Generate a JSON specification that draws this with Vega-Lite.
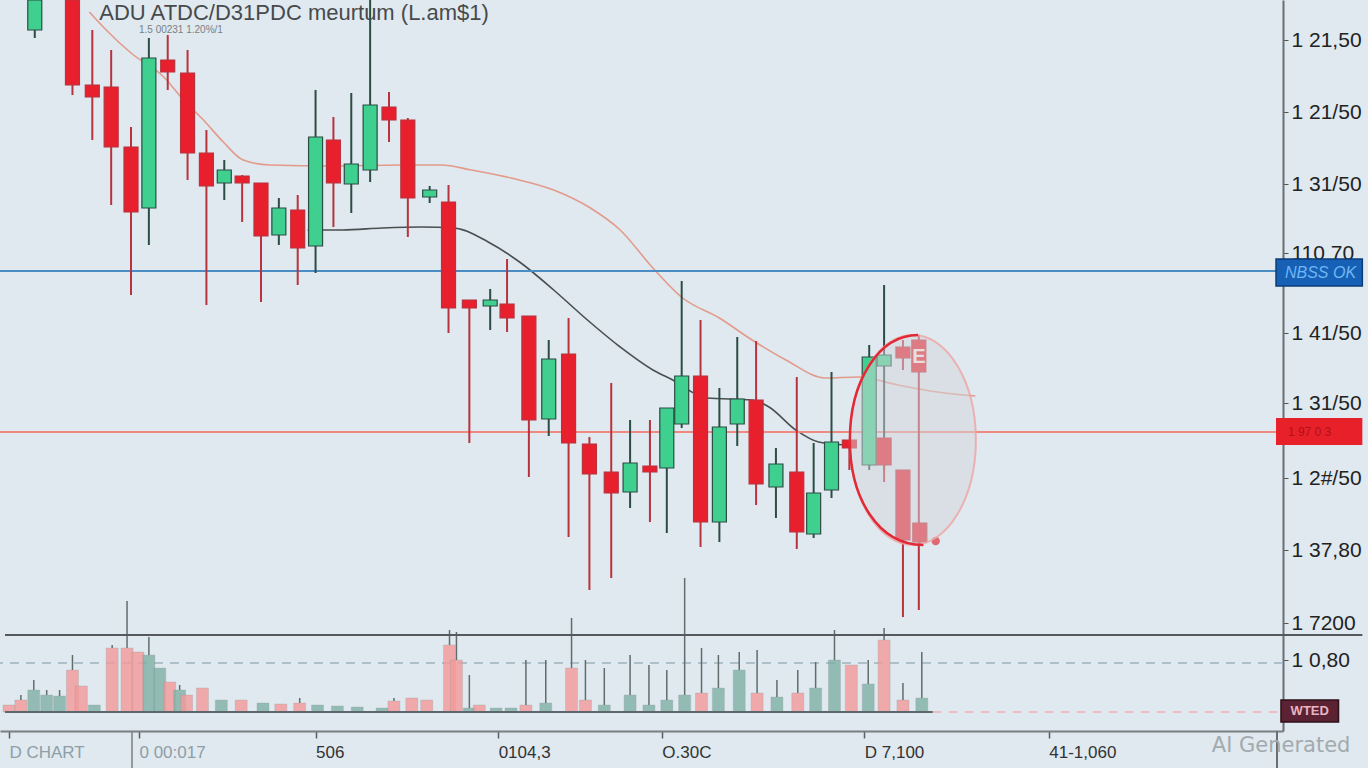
{
  "$schema": "https://vega.github.io/schema/vega-lite/v6.json",
  "width": 1283,
  "height": 731,
  "autosize": {"type": "none"},
  "padding": {"left": 0, "top": 0, "right": 85, "bottom": 37},
  "background": "#dfe9ef",
  "view": {"stroke": null},
  "config": {"font": "Liberation Sans"},
  "data": {"values": [{}]},
  "datasets": {
    "candles": [
      {"t": 30, "wt": 0, "wb": 38, "bt": 0, "bb": 30, "d": "up"},
      {"t": 68, "wt": 0, "wb": 95, "bt": 0, "bb": 85, "d": "dn"},
      {"t": 88, "wt": 30, "wb": 140, "bt": 85, "bb": 97, "d": "dn"},
      {"t": 107, "wt": 50, "wb": 205, "bt": 87, "bb": 147, "d": "dn"},
      {"t": 127, "wt": 127, "wb": 295, "bt": 147, "bb": 212, "d": "dn"},
      {"t": 145, "wt": 38, "wb": 245, "bt": 58, "bb": 208, "d": "up"},
      {"t": 164, "wt": 35, "wb": 90, "bt": 60, "bb": 72, "d": "dn"},
      {"t": 184, "wt": 50, "wb": 180, "bt": 73, "bb": 153, "d": "dn"},
      {"t": 203, "wt": 130, "wb": 305, "bt": 153, "bb": 186, "d": "dn"},
      {"t": 221, "wt": 160, "wb": 200, "bt": 170, "bb": 183, "d": "up"},
      {"t": 239, "wt": 175, "wb": 222, "bt": 176, "bb": 183, "d": "dn"},
      {"t": 258, "wt": 183, "wb": 302, "bt": 183, "bb": 236, "d": "dn"},
      {"t": 276, "wt": 198, "wb": 245, "bt": 208, "bb": 235, "d": "up"},
      {"t": 295, "wt": 195, "wb": 285, "bt": 210, "bb": 248, "d": "dn"},
      {"t": 313, "wt": 90, "wb": 273, "bt": 137, "bb": 246, "d": "up"},
      {"t": 331, "wt": 117, "wb": 227, "bt": 140, "bb": 183, "d": "dn"},
      {"t": 349, "wt": 93, "wb": 213, "bt": 164, "bb": 184, "d": "up"},
      {"t": 368, "wt": 0, "wb": 182, "bt": 105, "bb": 170, "d": "up"},
      {"t": 387, "wt": 92, "wb": 142, "bt": 107, "bb": 120, "d": "dn"},
      {"t": 406, "wt": 118, "wb": 237, "bt": 120, "bb": 198, "d": "dn"},
      {"t": 428, "wt": 186, "wb": 203, "bt": 190, "bb": 197, "d": "up"},
      {"t": 447, "wt": 185, "wb": 333, "bt": 202, "bb": 308, "d": "dn"},
      {"t": 468, "wt": 300, "wb": 443, "bt": 300, "bb": 308, "d": "dn"},
      {"t": 489, "wt": 289, "wb": 330, "bt": 300, "bb": 306, "d": "up"},
      {"t": 506, "wt": 259, "wb": 332, "bt": 304, "bb": 318, "d": "dn"},
      {"t": 528, "wt": 316, "wb": 477, "bt": 316, "bb": 420, "d": "dn"},
      {"t": 548, "wt": 340, "wb": 436, "bt": 359, "bb": 419, "d": "up"},
      {"t": 568, "wt": 318, "wb": 537, "bt": 354, "bb": 443, "d": "dn"},
      {"t": 589, "wt": 437, "wb": 590, "bt": 444, "bb": 474, "d": "dn"},
      {"t": 611, "wt": 383, "wb": 578, "bt": 472, "bb": 493, "d": "dn"},
      {"t": 630, "wt": 420, "wb": 508, "bt": 463, "bb": 492, "d": "up"},
      {"t": 650, "wt": 420, "wb": 522, "bt": 466, "bb": 472, "d": "dn"},
      {"t": 667, "wt": 408, "wb": 533, "bt": 408, "bb": 468, "d": "up"},
      {"t": 682, "wt": 281, "wb": 428, "bt": 376, "bb": 424, "d": "up"},
      {"t": 701, "wt": 320, "wb": 547, "bt": 376, "bb": 522, "d": "dn"},
      {"t": 720, "wt": 388, "wb": 542, "bt": 427, "bb": 522, "d": "up"},
      {"t": 738, "wt": 337, "wb": 446, "bt": 399, "bb": 424, "d": "up"},
      {"t": 757, "wt": 341, "wb": 505, "bt": 400, "bb": 484, "d": "dn"},
      {"t": 777, "wt": 448, "wb": 518, "bt": 464, "bb": 487, "d": "up"},
      {"t": 798, "wt": 377, "wb": 549, "bt": 472, "bb": 532, "d": "dn"},
      {"t": 815, "wt": 443, "wb": 538, "bt": 493, "bb": 534, "d": "up"},
      {"t": 833, "wt": 372, "wb": 498, "bt": 442, "bb": 490, "d": "up"},
      {"t": 851, "wt": 440, "wb": 470, "bt": 440, "bb": 448, "d": "dn"},
      {"t": 871, "wt": 345, "wb": 470, "bt": 357, "bb": 465, "d": "up"},
      {"t": 886, "wt": 285, "wb": 470, "bt": 355, "bb": 366, "d": "up"},
      {"t": 886, "wt": 438, "wb": 482, "bt": 438, "bb": 465, "d": "dn"},
      {"t": 905, "wt": 340, "wb": 370, "bt": 347, "bb": 358, "d": "dn"},
      {"t": 905, "wt": 470, "wb": 617, "bt": 470, "bb": 540, "d": "dn"},
      {"t": 921, "wt": 335, "wb": 610, "bt": 340, "bb": 372, "d": "dn"},
      {"t": 922, "wt": 523, "wb": 545, "bt": 523, "bb": 542, "d": "dn"}
    ],
    "volume": [
      {"t": 4, "v": 705, "w": 705, "d": "dn"},
      {"t": 16, "v": 700, "w": 695, "d": "dn"},
      {"t": 29, "v": 690, "w": 680, "d": "up"},
      {"t": 42, "v": 695, "w": 690, "d": "up"},
      {"t": 55, "v": 696, "w": 690, "d": "up"},
      {"t": 68, "v": 670, "w": 655, "d": "dn"},
      {"t": 77, "v": 686, "w": 686, "d": "dn"},
      {"t": 90, "v": 705, "w": 705, "d": "up"},
      {"t": 108, "v": 648, "w": 645, "d": "dn"},
      {"t": 123, "v": 648, "w": 601, "d": "dn"},
      {"t": 134, "v": 652, "w": 652, "d": "dn"},
      {"t": 145, "v": 655, "w": 637, "d": "up"},
      {"t": 156, "v": 668, "w": 668, "d": "up"},
      {"t": 166, "v": 682, "w": 682, "d": "dn"},
      {"t": 176, "v": 690, "w": 685, "d": "up"},
      {"t": 183, "v": 695, "w": 695, "d": "dn"},
      {"t": 199, "v": 688, "w": 688, "d": "dn"},
      {"t": 218, "v": 700, "w": 700, "d": "up"},
      {"t": 238, "v": 700, "w": 700, "d": "dn"},
      {"t": 260, "v": 703, "w": 703, "d": "up"},
      {"t": 278, "v": 704, "w": 704, "d": "dn"},
      {"t": 297, "v": 703, "w": 698, "d": "dn"},
      {"t": 315, "v": 705, "w": 705, "d": "up"},
      {"t": 335, "v": 706, "w": 706, "d": "up"},
      {"t": 355, "v": 707, "w": 707, "d": "up"},
      {"t": 380, "v": 708, "w": 708, "d": "up"},
      {"t": 392, "v": 701, "w": 698, "d": "dn"},
      {"t": 410, "v": 698, "w": 698, "d": "dn"},
      {"t": 425, "v": 700, "w": 700, "d": "dn"},
      {"t": 448, "v": 645, "w": 630, "d": "dn"},
      {"t": 455, "v": 660, "w": 632, "d": "dn"},
      {"t": 468, "v": 708, "w": 675, "d": "up"},
      {"t": 478, "v": 705, "w": 705, "d": "dn"},
      {"t": 495, "v": 708, "w": 708, "d": "up"},
      {"t": 510, "v": 708, "w": 708, "d": "up"},
      {"t": 525, "v": 705, "w": 660, "d": "dn"},
      {"t": 545, "v": 703, "w": 660, "d": "up"},
      {"t": 571, "v": 668, "w": 618, "d": "dn"},
      {"t": 585, "v": 700, "w": 660, "d": "dn"},
      {"t": 604, "v": 705, "w": 668, "d": "up"},
      {"t": 630, "v": 695, "w": 655, "d": "up"},
      {"t": 649, "v": 705, "w": 665, "d": "up"},
      {"t": 667, "v": 700, "w": 670, "d": "up"},
      {"t": 685, "v": 695, "w": 578, "d": "up"},
      {"t": 702, "v": 693, "w": 648, "d": "dn"},
      {"t": 719, "v": 688, "w": 655, "d": "up"},
      {"t": 740, "v": 670, "w": 652, "d": "up"},
      {"t": 758, "v": 693, "w": 650, "d": "dn"},
      {"t": 778, "v": 697, "w": 680, "d": "up"},
      {"t": 799, "v": 693, "w": 670, "d": "dn"},
      {"t": 817, "v": 688, "w": 662, "d": "up"},
      {"t": 836, "v": 660, "w": 630, "d": "up"},
      {"t": 853, "v": 665, "w": 665, "d": "dn"},
      {"t": 870, "v": 684, "w": 660, "d": "up"},
      {"t": 886, "v": 640, "w": 628, "d": "dn"},
      {"t": 905, "v": 700, "w": 683, "d": "dn"},
      {"t": 924, "v": 698, "w": 652, "d": "up"}
    ],
    "maSlow": [
      {"t": 85, "y": 12}, {"t": 100, "y": 28}, {"t": 127, "y": 53}, {"t": 160, "y": 77},
      {"t": 180, "y": 100}, {"t": 200, "y": 120}, {"t": 220, "y": 142}, {"t": 240, "y": 160},
      {"t": 267, "y": 165}, {"t": 330, "y": 166}, {"t": 400, "y": 165}, {"t": 440, "y": 165},
      {"t": 470, "y": 170}, {"t": 510, "y": 178}, {"t": 553, "y": 190}, {"t": 590, "y": 208},
      {"t": 620, "y": 230}, {"t": 653, "y": 268}, {"t": 683, "y": 298}, {"t": 720, "y": 318},
      {"t": 753, "y": 340}, {"t": 787, "y": 360}, {"t": 827, "y": 378}, {"t": 860, "y": 377},
      {"t": 900, "y": 385}, {"t": 940, "y": 392}, {"t": 978, "y": 396}
    ],
    "maFast": [
      {"t": 305, "y": 230}, {"t": 340, "y": 230}, {"t": 380, "y": 228}, {"t": 420, "y": 227},
      {"t": 453, "y": 228}, {"t": 487, "y": 242}, {"t": 520, "y": 263}, {"t": 553, "y": 290},
      {"t": 587, "y": 320}, {"t": 620, "y": 347}, {"t": 653, "y": 370}, {"t": 673, "y": 380},
      {"t": 707, "y": 398}, {"t": 753, "y": 400}, {"t": 770, "y": 407}, {"t": 797, "y": 430},
      {"t": 820, "y": 442}, {"t": 848, "y": 445}
    ]
  },
  "layer": [
    {
      "data": {"name": "maSlow"},
      "mark": {"type": "line", "color": "#e49a8b", "strokeWidth": 1.6, "interpolate": "monotone"},
      "encoding": {
        "x": {
          "field": "t", "type": "quantitative",
          "scale": {"domain": [0, 1283], "nice": false, "zero": false},
          "axis": {
            "orient": "bottom", "title": null, "grid": false,
            "values": [4, 135, 313, 497, 662, 866, 1052],
            "labelExpr": "datum.value == 4 ? 'D  CHART' : datum.value == 135 ? '0  00:017' : datum.value == 313 ? '506' : datum.value == 497 ? '0104,3' : datum.value == 662 ? 'O.30C' : datum.value == 866 ? 'D 7,100' : '41-1,060'",
            "labelAlign": "left", "labelFontSize": 17, "labelPadding": 6,
            "labelColor": {"condition": {"test": "datum.value < 200", "value": "#8e9ea6"}, "value": "#333333"},
            "domainColor": "#7a7f82", "domainWidth": 2, "tickColor": "#5a5f62", "tickSize": 7, "tickWidth": 1.5
          }
        },
        "y": {
          "field": "y", "type": "quantitative",
          "scale": {"domain": [0, 731], "reverse": true, "nice": false, "zero": false},
          "axis": {
            "orient": "right", "title": null, "grid": false,
            "values": [40, 112, 184, 253, 333, 403, 478, 550, 623, 660],
            "labelExpr": "datum.value == 40 ? '1 21,50' : datum.value == 112 ? '1 21/50' : datum.value == 184 ? '1 31/50' : datum.value == 253 ? '110 70' : datum.value == 333 ? '1 41/50' : datum.value == 403 ? '1 31/50' : datum.value == 478 ? '1 2#/50' : datum.value == 550 ? '1 37,80' : datum.value == 623 ? '1 7200' : '1 0,80'",
            "labelFontSize": 21, "labelColor": "#222222", "labelPadding": 3,
            "domainColor": "#6a6f72", "domainWidth": 2, "tickColor": "#555", "tickSize": 5
          }
        }
      }
    },
    {
      "data": {"name": "maFast"},
      "mark": {"type": "line", "color": "#4a4f50", "strokeWidth": 1.6, "interpolate": "monotone"},
      "encoding": {"x": {"field": "t", "type": "quantitative"}, "y": {"field": "y", "type": "quantitative"}}
    },
    {
      "mark": {"type": "rule", "color": "#4a8cc4", "strokeWidth": 2},
      "encoding": {"y": {"datum": 271}}
    },
    {
      "mark": {"type": "rule", "color": "#f08a80", "strokeWidth": 2},
      "encoding": {"y": {"datum": 432}}
    },
    {
      "mark": {"type": "rule", "color": "#9fb3bd", "strokeWidth": 1.5, "strokeDash": [9, 7]},
      "encoding": {"y": {"datum": 663}}
    },
    {
      "mark": {"type": "rule", "color": "#f2b0b0", "strokeWidth": 1.5, "strokeDash": [9, 7]},
      "encoding": {"x": {"datum": 935}, "x2": {"datum": 1283}, "y": {"datum": 712}}
    },
    {
      "data": {"name": "volume"},
      "mark": {"type": "rule", "color": "#5f6d6d", "strokeWidth": 1.5},
      "encoding": {
        "x": {"field": "t", "type": "quantitative"},
        "y": {"field": "w", "type": "quantitative"},
        "y2": {"field": "v"}
      }
    },
    {
      "data": {"name": "volume"},
      "mark": {"type": "bar", "size": 12, "opacity": 0.8, "stroke": "#8a8a8a", "strokeOpacity": 0.3, "strokeWidth": 1},
      "encoding": {
        "x": {"field": "t", "type": "quantitative"},
        "y": {"field": "v", "type": "quantitative"},
        "y2": {"datum": 712},
        "color": {"field": "d", "type": "nominal", "scale": {"domain": ["up", "dn"], "range": ["#7fb0a6", "#f39a9a"]}, "legend": null}
      }
    },
    {
      "mark": {"type": "rule", "color": "#5c676b", "strokeWidth": 2},
      "encoding": {"x": {"datum": 0}, "x2": {"datum": 935}, "y": {"datum": 712}}
    },
    {
      "data": {"name": "candles"},
      "mark": {"type": "rule", "strokeWidth": 2},
      "encoding": {
        "x": {"field": "t", "type": "quantitative"},
        "y": {"field": "wt", "type": "quantitative"},
        "y2": {"field": "wb"},
        "stroke": {"field": "d", "type": "nominal", "scale": {"domain": ["up", "dn"], "range": ["#2c4d44", "#b8333d"]}, "legend": null}
      }
    },
    {
      "data": {"name": "candles"},
      "mark": {"type": "bar", "size": 14, "strokeWidth": 1.2},
      "encoding": {
        "x": {"field": "t", "type": "quantitative"},
        "y": {"field": "bt", "type": "quantitative"},
        "y2": {"field": "bb"},
        "fill": {"field": "d", "type": "nominal", "scale": {"domain": ["up", "dn"], "range": ["#3fcf8e", "#e8202e"]}, "legend": null},
        "stroke": {"field": "d", "type": "nominal", "legend": null}
      }
    },
    {
      "mark": {"type": "text", "text": "E", "fontSize": 20, "fontWeight": "bold", "color": "#ffe4e4"},
      "encoding": {"x": {"datum": 921}, "y": {"datum": 357}}
    },
    {
      "mark": {"type": "point", "filled": true, "color": "#e0303a", "size": 70, "shape": "circle"},
      "encoding": {"x": {"datum": 938}, "y": {"datum": 541}}
    },
    {
      "mark": {
        "type": "point", "filled": true, "size": 44100,
        "shape": "M 0 -1 C 0.3314 -1 0.6 -0.5523 0.6 0 C 0.6 0.5523 0.3314 1 0 1 C -0.3314 1 -0.6 0.5523 -0.6 0 C -0.6 -0.5523 -0.3314 -1 0 -1 Z",
        "color": "#d4d6d9", "fillOpacity": 0.5, "stroke": "#f0a3a3", "strokeWidth": 2, "strokeOpacity": 0.8
      },
      "encoding": {"x": {"datum": 915}, "y": {"datum": 440}}
    },
    {
      "mark": {
        "type": "point", "filled": false, "size": 44100,
        "shape": "M 0.05 -1 C -0.3314 -1 -0.6 -0.5523 -0.6 0 C -0.6 0.5523 -0.3314 1 0.1 1",
        "stroke": "#e22a36", "strokeWidth": 2.5, "opacity": 1
      },
      "encoding": {"x": {"datum": 915}, "y": {"datum": 440}}
    },
    {
      "mark": {"type": "rule", "color": "#55595c", "strokeWidth": 2, "clip": false},
      "encoding": {"x": {"datum": 0}, "x2": {"datum": 1368}, "y": {"datum": 635}}
    },
    {
      "mark": {"type": "rule", "color": "#6a6f72", "strokeWidth": 2, "clip": false},
      "encoding": {"x": {"datum": 1282}, "y": {"datum": 731}, "y2": {"datum": 768}}
    },
    {
      "mark": {"type": "rule", "color": "#7a7f82", "strokeWidth": 1.5, "clip": false},
      "encoding": {"x": {"datum": 128}, "y": {"datum": 731}, "y2": {"datum": 768}}
    },
    {
      "mark": {"type": "text", "align": "left", "baseline": "middle", "fontSize": 22, "color": "#474a4c", "text": "ADU ATDC/D31PDC meurtum (L.am$1)"},
      "encoding": {"x": {"datum": 95}, "y": {"datum": 13}}
    },
    {
      "mark": {"type": "text", "align": "left", "baseline": "middle", "fontSize": 10, "color": "#7a7f82", "text": "1.5 00231 1.20%/1"},
      "encoding": {"x": {"datum": 135}, "y": {"datum": 30}}
    },
    {
      "mark": {"type": "rect", "fill": "#1661b5", "stroke": "#0c3d78", "strokeWidth": 1.5, "clip": false},
      "encoding": {"x": {"datum": 1281}, "x2": {"datum": 1368}, "y": {"datum": 259}, "y2": {"datum": 286}}
    },
    {
      "mark": {"type": "text", "align": "left", "baseline": "middle", "fontSize": 16, "fontStyle": "italic", "color": "#6fb6f5", "text": "NBSS OK", "clip": false},
      "encoding": {"x": {"datum": 1290}, "y": {"datum": 273}}
    },
    {
      "mark": {"type": "rect", "fill": "#e8202a", "clip": false},
      "encoding": {"x": {"datum": 1281}, "x2": {"datum": 1368}, "y": {"datum": 418}, "y2": {"datum": 445}}
    },
    {
      "mark": {"type": "text", "align": "left", "baseline": "middle", "fontSize": 12, "color": "#b31019", "text": "1 97 0 3", "clip": false},
      "encoding": {"x": {"datum": 1293}, "y": {"datum": 432}}
    },
    {
      "mark": {"type": "rect", "fill": "#5a2233", "stroke": "#2e1018", "strokeWidth": 1.5, "clip": false},
      "encoding": {"x": {"datum": 1286}, "x2": {"datum": 1344}, "y": {"datum": 700}, "y2": {"datum": 722}}
    },
    {
      "mark": {"type": "text", "align": "center", "baseline": "middle", "fontSize": 13, "fontWeight": "bold", "color": "#e9b3c3", "text": "WTED", "clip": false},
      "encoding": {"x": {"datum": 1315}, "y": {"datum": 711}}
    },
    {
      "mark": {"type": "text", "align": "right", "baseline": "middle", "fontSize": 21, "font": "DejaVu Sans", "color": "#a3a9ad", "text": "AI Generated", "clip": false},
      "encoding": {"x": {"datum": 1356}, "y": {"datum": 746}}
    }
  ]
}
